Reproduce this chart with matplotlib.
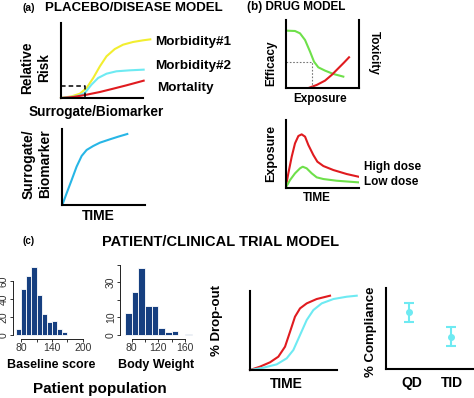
import matplotlib
matplotlib.use("Agg")
import matplotlib.pyplot as plt

W, H = 474, 398

# (a) placebo / disease model: relative risk vs surrogate
m1_x = [0, 1.3, 2.31, 3.12, 3.93, 4.74, 5.55, 6.56, 7.57, 8.79, 10.0, 10.89]
m1_y = [0, 0.22, 0.58, 1.33, 2.67, 4.22, 5.56, 6.53, 7.11, 7.47, 7.69, 7.82]
m2_x = [0, 1.9, 2.91, 3.72, 4.53, 5.55, 6.76, 8.38, 10.08]
m2_y = [0, 0.22, 0.67, 1.78, 2.67, 3.24, 3.56, 3.69, 3.78]
mort_x = [0, 1.5, 3.12, 4.74, 6.36, 7.98, 10.08]
mort_y = [0, 0.13, 0.44, 0.8, 1.24, 1.69, 2.31]
thresh_x, thresh_y = 2.91, 1.64

# surrogate vs time
surr_t = [0, 0.52, 1.13, 1.73, 2.34, 2.94, 3.75, 4.56, 5.77, 6.77, 7.86]
surr_y = [0, 1.54, 3.30, 5.07, 6.48, 7.27, 7.80, 8.24, 8.68, 9.03, 9.38]

# (b) drug model: efficacy / toxicity vs exposure
eff_x = [0.14, 1.27, 1.95, 2.64, 3.32, 3.86, 4.45, 5.36, 6.5, 7.86]
eff_y = [8.44, 8.39, 8.05, 7.07, 5.37, 3.9, 3.07, 2.59, 2.1, 1.71]
tox_x = [3.0, 4.23, 5.36, 6.27, 7.18, 7.95, 8.64]
tox_y = [0, 0.49, 1.12, 1.95, 2.93, 3.76, 4.54]
target_x, target_y = 3.6, 3.9

# exposure vs time
hi_t = [0, 0.36, 0.82, 1.27, 1.73, 2.18, 2.64, 3.09, 3.77, 4.32, 5.14, 6.5, 8.32, 9.91]
hi_c = [0, 2.12, 4.58, 6.55, 7.64, 7.88, 7.54, 6.31, 4.83, 3.84, 3.2, 2.61, 2.02, 1.63]
lo_t = [0, 0.59, 1.27, 1.95, 2.32, 2.86, 3.55, 4.23, 5.14, 6.95, 9.91]
lo_c = [0, 1.13, 2.12, 2.86, 3.1, 2.86, 2.12, 1.53, 1.28, 1.03, 0.79]

# (c) patient population histograms
base_edges = [70, 80, 90, 100, 110, 120, 130, 140, 150, 160, 170]
base_counts = [7, 51, 66, 75, 44, 23, 15, 16, 7, 3]
wt_edges = [70, 80, 90, 100, 110, 120, 130, 140, 150, 160, 170]
wt_counts = [12.5, 24.5, 38.5, 16.5, 16.5, 4, 1.5, 2.3, 0, 0.4]

# drop-out vs time
drop_a_t = [0, 1.15, 2.31, 3.27, 4.04, 4.62, 5.19, 5.77, 6.54, 7.69, 9.23]
drop_a_y = [0, 0.42, 0.97, 1.68, 2.94, 4.83, 6.72, 7.77, 8.4, 8.95, 9.37]
drop_b_t = [0, 1.54, 3.08, 4.23, 5.0, 5.77, 6.54, 7.31, 8.27, 9.62, 11.15, 12.31]
drop_b_y = [0, 0.29, 0.71, 1.47, 2.52, 4.41, 6.3, 7.56, 8.4, 8.95, 9.24, 9.37]

# compliance by regimen
regimens = ["QD", "TID"]
compliance = [70.2, 40.1]
compliance_err = [11.5, 11.8]

YELLOW = "#f2ee30"
CYAN = "#6eeaf2"
SKY = "#27b6e6"
RED = "#e01b1f"
GREEN = "#6ee04a"
NAVY = "#163f80"

plt.rcParams["font.family"] = ["Liberation Sans", "DejaVu Sans"]

fig = plt.figure(figsize=(W / 100, H / 100), dpi=100)


def px_axes(left, top, right, bottom):
    return fig.add_axes([left / W, 1 - bottom / H, (right - left) / W, (bottom - top) / H])


def px_text(x, y, s, size=8.5, weight="bold", **kw):
    kw.setdefault("ha", "center")
    kw.setdefault("va", "center")
    fig.text(x / W, 1 - y / H, s, fontsize=size, fontweight=weight, **kw)


def schematic(ax, right=False):
    ax.set_xlim(0, 10)
    ax.set_ylim(0, 10)
    ax.set_xticks([])
    ax.set_yticks([])
    ax.patch.set_alpha(0)
    for side in ["top", "right"]:
        ax.spines[side].set_visible(False)
    if right:
        ax.spines["right"].set_visible(True)
    for sp in ax.spines.values():
        sp.set_linewidth(1.5)


# ---- (a) top
ax = px_axes(61, 23, 143, 98)
schematic(ax)
ax.plot(m1_x, m1_y, color=YELLOW, lw=1.5, clip_on=False)
ax.plot(m2_x, m2_y, color=CYAN, lw=1.5, clip_on=False)
ax.plot(mort_x, mort_y, color=RED, lw=1.5, clip_on=False)
ax.plot([0, thresh_x, thresh_x], [thresh_y, thresh_y, 0], color="black", lw=1.1, ls=(0, (3, 2)))
ax.text(11.5, 7.5, "Morbidity#1", fontsize=9.7, fontweight="bold", va="center")
ax.text(11.5, 4.3, "Morbidity#2", fontsize=9.7, fontweight="bold", va="center")
ax.text(11.7, 1.38, "Mortality", fontsize=9.7, fontweight="bold", va="center")

px_text(29, 8, "(a)", size=7.5)
px_text(134, 8, "PLACEBO/DISEASE MODEL", size=9.5)
px_text(27, 68, "Relative", size=9.8, rotation=90)
px_text(44, 68, "Risk", size=9.8, rotation=90)
px_text(96, 112, "Surrogate/Biomarker", size=9.8)

# ---- (a) bottom
ax = px_axes(62.3, 129.3, 145, 205)
schematic(ax)
ax.plot(surr_t, surr_y, color=SKY, lw=1.5)
px_text(29, 164, "Surrogate/", size=10, rotation=90)
px_text(45, 164, "Biomarker", size=10, rotation=90)
px_text(98, 216, "TIME", size=10)

# ---- (b) top
ax = px_axes(285.7, 20, 359, 88.3)
schematic(ax, right=True)
ax.plot(eff_x, eff_y, color=GREEN, lw=1.5)
ax.plot(tox_x, tox_y, color=RED, lw=1.5)
ax.plot([0, target_x, target_x], [target_y, target_y, 0], color="#777777", lw=0.8, ls=(0, (1.5, 1.5)))
px_text(296, 7, "(b) DRUG MODEL", size=8.5)
px_text(271, 63, "Efficacy", rotation=90)
px_text(374, 53, "Toxicity", rotation=-90)
px_text(320, 99, "Exposure")

# ---- (b) bottom
ax = px_axes(285.7, 120, 359, 187.7)
schematic(ax)
ax.plot(hi_t, hi_c, color=RED, lw=1.5)
ax.plot(lo_t, lo_c, color=GREEN, lw=1.5)
px_text(364, 167, "High dose", ha="left")
px_text(364, 182, "Low dose", ha="left")
px_text(271, 153, "Exposure", size=9, rotation=90)
px_text(317, 198, "TIME")

# ---- (c)
px_text(29, 241, "(c)", size=7)
px_text(221, 242, "PATIENT/CLINICAL TRIAL MODEL", size=10.5)


def hist_axes(ax, edges, counts, xlim, ylim, xbounds, ybounds, xticks, xlabels, yticks, ylabels):
    widths = [edges[i + 1] - edges[i] for i in range(len(counts))]
    ax.bar(edges[:-1], counts, width=widths, align="edge", color=NAVY,
           edgecolor="white", linewidth=0.6)
    ax.set_xlim(*xlim)
    ax.set_ylim(*ylim)
    for side in ["top", "right"]:
        ax.spines[side].set_visible(False)
    ax.spines["left"].set_bounds(*ybounds)
    ax.spines["bottom"].set_bounds(*xbounds)
    for sp in ax.spines.values():
        sp.set_linewidth(0.7)
        sp.set_color("#222222")
    ax.set_xticks(xticks)
    ax.set_xticklabels(xlabels)
    ax.set_yticks(yticks)
    ax.set_yticklabels(ylabels, rotation=90, va="center")
    ax.tick_params(length=2, width=0.7, pad=1, labelsize=7.5, colors="#333333")
    ax.patch.set_alpha(0)


ax = px_axes(12.7, 262, 85, 339)
hist_axes(ax, base_edges, base_counts, (63.6, 204.5), (-4.4, 81), (80, 200), (0, 60),
          [80, 110, 140, 170, 200], ["80", "", "140", "", "200"],
          [0, 20, 40, 60], ["0", "20", "40", "60"])

ax = px_axes(120, 262, 195, 339)
hist_axes(ax, wt_edges, wt_counts, (62.5, 175), (-2.3, 41.7), (80, 160), (0, 40),
          [80, 100, 120, 140, 160], ["80", "", "120", "", "160"],
          [0, 10, 20, 30, 40], ["0", "10", "", "30", ""])

px_text(51, 365, "Baseline score", size=9)
px_text(156, 365, "Body Weight", size=9)
px_text(100, 389, "Patient population", size=11)

# drop-out
ax = px_axes(250, 290.7, 336.7, 370)
schematic(ax)
ax.plot(drop_a_t, drop_a_y, color=RED, lw=1.5, clip_on=False)
ax.plot(drop_b_t, drop_b_y, color=CYAN, lw=1.5, clip_on=False)
px_text(217, 321, "% Drop-out", rotation=90, size=9.5)
px_text(286, 384, "TIME", size=10)

# compliance
ax = px_axes(385.7, 288.3, 474, 369)
ax.errorbar([1, 2], compliance, yerr=compliance_err, fmt="o", color=CYAN, ms=4,
            elinewidth=1.5, capsize=3.5, capthick=1.5)
ax.set_xlim(0.44, 2.56)
ax.set_ylim(0, 100)
ax.set_xticks([])
ax.set_yticks([])
ax.spines["top"].set_visible(False)
ax.spines["right"].set_visible(False)
for sp in ax.spines.values():
    sp.set_linewidth(1.5)
px_text(371, 332, "% Compliance", rotation=90, size=9.5)
px_text(412, 383, regimens[0], size=10)
px_text(452, 383, regimens[1], size=10)

fig.savefig("out.png", dpi=100)
